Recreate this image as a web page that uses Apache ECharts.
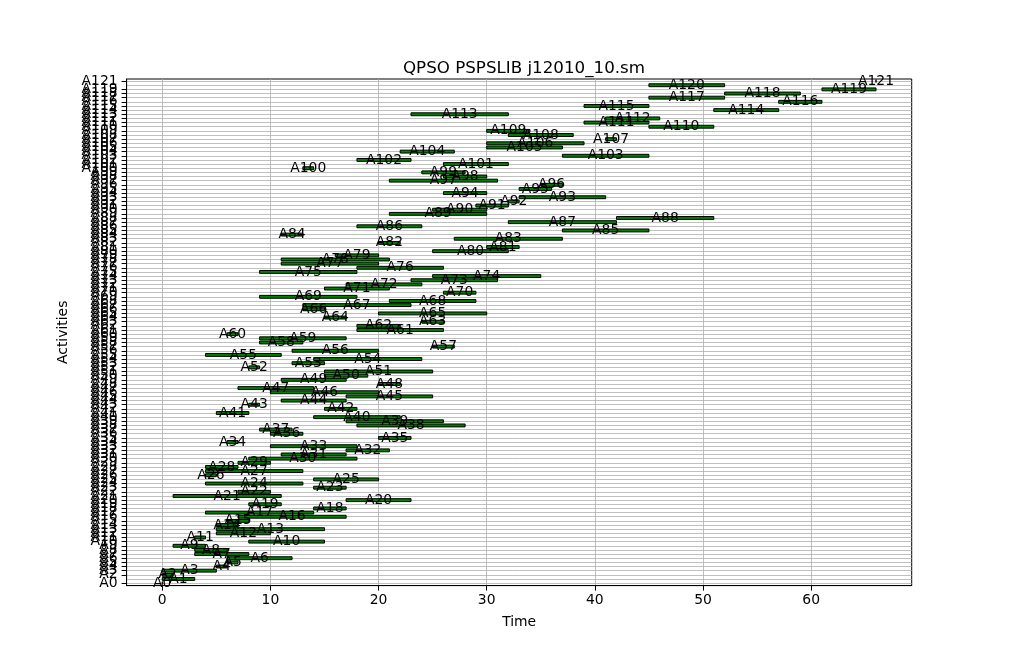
<!DOCTYPE html>
<html>
<head>
<meta charset="utf-8">
<script src="https://cdn.jsdelivr.net/npm/echarts@6/dist/echarts.min.js"></script>
<style>
  html, body { margin: 0; padding: 0; background: #fff; }
  #main { width: 1013px; height: 658px; }
</style>
</head>
<body>
<div id="main"></div>
<script>
// start time of each activity, A0 .. A121
const starts = [
  0, 0, 0, 0, 5, 6, 6, 3, 3, 1,
  8, 3, 5, 5, 5, 6, 7, 4, 14, 8,
  17, 1, 7, 14, 4, 14, 4, 4, 4, 7,
  8, 11, 17, 10, 6, 20, 10, 9, 18, 17,
  14, 5, 15, 8, 11, 17, 10, 7, 20, 11,
  15, 15, 8, 12, 14, 4, 12, 25, 9, 9,
  6, 18, 18, 24, 15, 20, 13, 13, 21, 9,
  26, 15, 17, 23, 25, 9, 18, 11, 11, 16,
  25, 30, 20, 27, 11, 37, 18, 32, 42, 21,
  25, 29, 32, 33, 26, 33, 35, 21, 26, 24,
  13, 26, 18, 37, 22, 30, 30, 41, 32, 30,
  45, 39, 41, 23, 51, 39, 57, 45, 52, 61,
  45, 66
];
// duration of each activity
const durations = [
  0, 3, 1, 5, 1, 1, 6, 5, 3, 3,
  7, 1, 5, 10, 2, 2, 10, 10, 3, 3,
  6, 10, 3, 3, 9, 6, 1, 9, 3, 3,
  10, 6, 4, 8, 1, 3, 3, 3, 10, 9,
  8, 3, 3, 1, 6, 8, 10, 7, 2, 6,
  4, 10, 1, 3, 10, 7, 8, 2, 4, 8,
  1, 8, 4, 2, 2, 10, 2, 10, 8, 9,
  3, 6, 7, 8, 10, 9, 8, 9, 10, 4,
  7, 3, 2, 10, 2, 8, 6, 10, 9, 9,
  5, 3, 1, 8, 4, 3, 2, 10, 4, 4,
  1, 6, 5, 8, 5, 7, 9, 1, 6, 4,
  6, 6, 5, 9, 6, 6, 4, 7, 7, 5,
  7, 0
];
const activities = starts.map((s, i) => "A" + i);
const timeTicks = [0, 10, 20, 30, 40, 50, 60];

const rows = activities.map((name, i) => [i, starts[i], durations[i], name]);
const yTicks = activities.map((n, i) => i);

const FONT = "DejaVu Sans";

let chart = echarts.init(document.getElementById("main"), null, {renderer: "canvas"});
chart.setOption({
  animation: false,
  backgroundColor: "#fff",
  title: {
    text: "QPSO PSPSLIB j12010_10.sm",
    left: 519, top: 55, textAlign: "center",
    textStyle: {fontFamily: FONT, fontSize: 16.7, fontWeight: "normal", color: "#000"}
  },
  grid: {
    left: 126.6, right: 101.3, top: 79, bottom: 72.4,
    show: true, borderColor: "#000", borderWidth: 1, backgroundColor: "transparent"
  },
  xAxis: {
    type: "value", min: -3.3, max: 69.3,
    name: "Time", nameLocation: "middle", nameGap: 30,
    nameTextStyle: {fontFamily: FONT, fontSize: 13.9, color: "#000"},
    axisLine: {show: true, onZero: false, lineStyle: {color: "#000"}},
    axisTick: {show: true, length: 5, customValues: timeTicks, lineStyle: {color: "#000"}},
    axisLabel: {customValues: timeTicks, fontFamily: FONT, fontSize: 13.9, color: "#000", margin: 8},
    splitLine: {show: true, lineStyle: {color: "#b0b0b0", width: 0.8}}
  },
  yAxis: {
    type: "value", min: -0.6, max: 121.5,
    name: "Activities", nameLocation: "middle", nameGap: 52, nameRotate: 90,
    nameTextStyle: {fontFamily: FONT, fontSize: 13.9, color: "#000"},
    axisLine: {show: true, onZero: false, lineStyle: {color: "#000"}},
    axisTick: {show: true, length: 5, customValues: yTicks, lineStyle: {color: "#000"}},
    axisLabel: {
      customValues: yTicks, fontFamily: FONT, fontSize: 13.9, color: "#000", margin: 9,
      showMinLabel: true, showMaxLabel: true, hideOverlap: false,
      formatter: v => activities[v]
    },
    splitLine: {show: true, lineStyle: {color: "#b0b0b0", width: 0.8}}
  },
  series: [
    {
      // 条形
      type: "custom",
      data: rows,
      renderItem: function (params, api) {
        let i = api.value(0), s = api.value(1), d = api.value(2);
        let p0 = api.coord([s, i]);
        let p1 = api.coord([s + d, i]);
        let h = api.size([0, 1])[1] * 0.7;
        return {
          type: "rect",
          shape: {x: p0[0], y: p0[1] - h / 2, width: p1[0] - p0[0], height: h},
          style: {fill: "#008000", stroke: "#000", lineWidth: 1}
        };
      },
      clip: true
    },
    {
      // 标签
      type: "custom",
      data: rows,
      renderItem: function (params, api) {
        let i = api.value(0), s = api.value(1), d = api.value(2);
        let c = api.coord([s + d / 2, i]);
        return {
          type: "text",
          style: {
            text: activities[i], x: c[0], y: c[1],
            align: "center", verticalAlign: "middle",
            font: "13.9px " + FONT, fill: "#000"
          }
        };
      }
    }
  ]
});
</script>
</body>
</html>
